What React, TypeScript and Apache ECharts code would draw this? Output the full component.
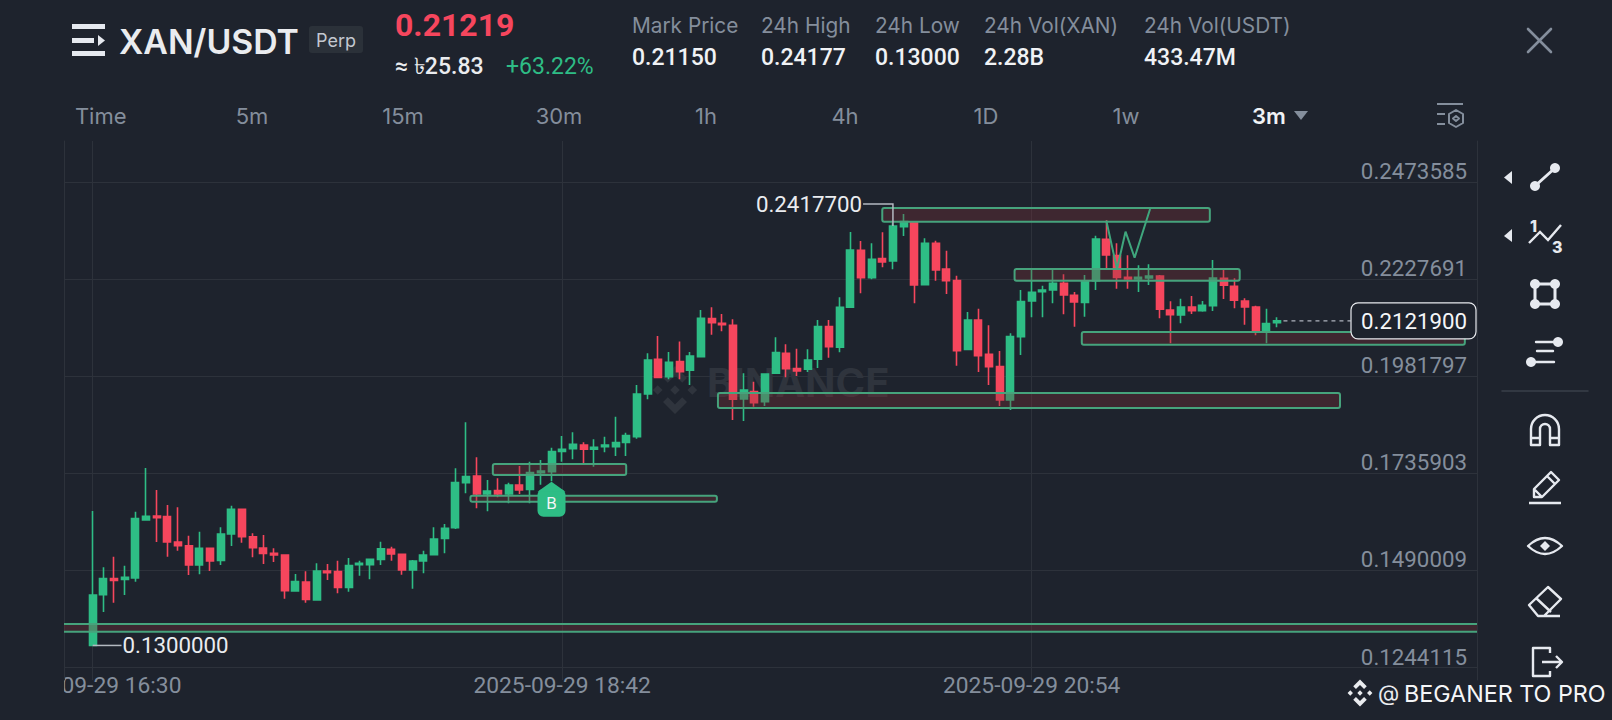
import React, { useEffect, useRef } from "react";
import * as echarts from "echarts";

const BG = "#1e232d";
const GREEN = "#2ebd85";
const RED = "#f6465d";
const GREY = "#848e9c";
const ICON = "#e6e9ef";
const FONT = "Inter, 'Noto Sans', sans-serif";
const NUM = "Roboto, 'Noto Sans', sans-serif";

const opens = [.13000,.14285,.14691,.14674,.14707,.16176,.16278,.16261,.15619,.15526,
.15037,.15459,.15155,.15822,.16446,.15754,.15467,.15332,.15290,.14378,
.14606,.14150,.14885,.14868,.14471,.15045,.15045,.15180,.15433,.15307,
.14910,.15138,.15298,.15712,.15982,.17122,.17291,.16835,.16919,.16835,
.17063,.16953,.17375,.17400,.17915,.17983,.18075,.17966,.18033,.18033,
.18143,.18287,.19367,.20245,.19806,.20186,.19967,.20313,.21275,.21157,
.21106,.19241,.19426,.19173,.19891,.20397,.20009,.19992,.20245,.21072,
.20549,.21562,.23005,.22313,.22794,.22735,.23604,.23723,.22136,.23182,
.22532,.22237,.20498,.21241,.20372,.20059,.19215,.20819,.21722,.21958,
.22001,.22170,.21866,.21688,.22237,.23284,.22870,.22321,.22279,.22305,
.22355,.21494,.21368,.21570,.21477,.21604,.22296,.22094,.21722,.21570,
.20937,.21173];
const closes = [.14277,.14691,.14648,.14724,.16210,.16269,.16235,.15619,.15526,.15037,
.15459,.15138,.15822,.16446,.15754,.15476,.15332,.15290,.14387,.14615,
.14167,.14885,.14843,.14471,.15020,.15079,.15180,.15450,.15315,.14910,
.15138,.15290,.15695,.15965,.17122,.17274,.16835,.16911,.16835,.17063,
.16936,.17375,.17417,.17907,.17966,.18093,.17966,.18016,.18075,.18135,
.18312,.19367,.20228,.19789,.20169,.19933,.20330,.21283,.21174,.21123,
.19232,.19469,.19148,.19874,.20414,.20009,.19950,.20228,.21072,.20566,
.21562,.23014,.22313,.22777,.22710,.23621,.23731,.22127,.23182,.22507,
.22237,.20464,.21241,.20338,.20059,.19215,.20819,.21705,.21942,.22001,
.22170,.21874,.21697,.22212,.23292,.22887,.22321,.22279,.22321,.22355,
.21511,.21376,.21570,.21477,.21612,.22305,.22119,.21739,.21570,.20946,
.21148,.21219];
const lows = [.13000,.13847,.14083,.14277,.14615,.16176,.15619,.15248,.15400,.14783,
.14800,.14885,.15037,.15518,.15602,.15231,.15062,.15113,.14184,.14361,
.14083,.14133,.14657,.14319,.14361,.14767,.14674,.15037,.15146,.14792,
.14437,.14826,.15290,.15332,.15948,.16852,.16472,.16396,.16750,.16598,
.16835,.16598,.17071,.17155,.17654,.17712,.17595,.17527,.17890,.17797,
.17797,.18236,.19232,.19764,.19739,.19739,.19595,.20313,.20870,.20954,
.18709,.18684,.19047,.19064,.19874,.19789,.19823,.19925,.20026,.20287,
.20422,.21562,.21916,.22271,.22575,.22524,.23368,.21663,.22127,.22237,
.21899,.20085,.20481,.19924,.19595,.19063,.18962,.20355,.21308,.21308,
.21663,.21385,.21072,.21325,.22001,.22549,.22034,.22034,.21950,.22127,
.21283,.20650,.21157,.21393,.21452,.21469,.21773,.21536,.21123,.20853,
.20650,.21055];
const highs = [.16404,.14978,.15248,.15020,.16387,.17493,.16936,.16556,.16497,.15780,
.15881,.15459,.15990,.16539,.16446,.15839,.15796,.15459,.15290,.14809,
.14876,.15079,.15062,.15146,.15214,.15146,.15197,.15628,.15501,.15307,
.15163,.15400,.15990,.16075,.17485,.18650,.17763,.17189,.17231,.17122,
.17544,.17654,.17696,.18008,.18303,.18396,.18143,.18219,.18287,.18793,
.18388,.19595,.20397,.20836,.20431,.20693,.20431,.21495,.21562,.21393,
.21258,.19891,.19680,.19891,.20802,.20625,.20515,.20498,.21241,.21241,
.21815,.23469,.23242,.23182,.23461,.23689,.23925,.23723,.23309,.23250,
.22997,.22364,.21444,.21528,.21106,.20456,.20903,.22001,.22524,.22110,
.22524,.22397,.21950,.22381,.23377,.23773,.23182,.22879,.22625,.22651,
.22381,.21714,.21781,.21849,.21722,.22760,.22507,.22296,.21790,.21604,
.21528,.21308];

const priceTicks = [0.2473585, 0.2227691, 0.1981797, 0.1735903, 0.1490009, 0.1244115];
const timeTicks = [0, 44, 88];
const timeLabels = ["2025-09-29 16:30", "2025-09-29 18:42", "2025-09-29 20:54"];

// [start candle, end candle, lower price, upper price]
const zones = [
  [74, 104.7, 0.2373, 0.24077],
  [86.4, 107.5, 0.22236, 0.22532],
  [92.7, 128.6, 0.20615, 0.20937],
  [58.6, 116.9, 0.19013, 0.19392],
  [37.5, 50, 0.17316, 0.17594],
  [35.4, 58.5, 0.1664, 0.16792],
  [-5, 132, 0.13347, 0.13542],
];
const wavePoints = [[95, 0.23755], [96, 0.22532], [96.8, 0.23477], [97.65, 0.22819], [99.1, 0.24052]];
const lastPriceLine = [[111.6, 0.21219], [117.9, 0.21219]];
const extremes = [
  { index: 75, price: 0.24177, labelAt: 72.2, body: 0.23621, text: "0.2417700", side: "left" },
  { index: 0, price: 0.13, labelAt: 2.7, body: 0.13, text: "0.1300000", side: "right" },
];
const buyTag = { index: 43, price: 0.1661, text: "B" };

const stats = [
  ["Mark Price", "0.21150", 632],
  ["24h High", "0.24177", 761],
  ["24h Low", "0.13000", 875],
  ["24h Vol(XAN)", "2.28B", 984],
  ["24h Vol(USDT)", "433.47M", 1144],
];
const tabs = [["Time", 100.7], ["5m", 252], ["15m", 403], ["30m", 559], ["1h", 706], ["4h", 845], ["1D", 986], ["1w", 1126]];

const SHAPES: Record<string, string> = {
  magnet: "M-14 15 V-1 A14 14 0 0 1 14 -1 V15 H5 V-1 A5 5 0 0 0 -5 -1 V15 Z M-14 8 H-5 M5 8 H14",
  pencil: "M-11 10 L-11 2 L6 -15 L14 -7 L-3 10 Z M-11 2 L-3 10 M2 -11 L10 -3 M-16 16 H16",
  eye: "M-17 0 Q0 -16 17 0 Q0 16 -17 0 Z",
  eraser: "M-16 3 L3 -15 L16 -3 L-1 14 H-7 Z M-9 -4 L6 10 M-3 14 H15",
  exit: "M5 -9 V-14 H-12 V14 H5 V9 M-3 0 H17 M11 -6 L17 0 L11 6",
  settings: "M-13 -12 H13 M-13 -2 H-5 M-13 8 H-5 M6 -6 L13 -2 L13 7 L6 11 L-1 7 L-1 -2 Z M6 0 L9 2.5 L6 5 L3 2.5 Z",
  logoA: "M0 -10 L5 -5 L3 -3 L0 -6 L-3 -3 L-5 -5 Z M0 10 L5 5 L3 3 L0 6 L-3 3 L-5 5 Z M0 -2 L2 0 L0 2 L-2 0 Z M-7.2 -2 L-5.2 0 L-7.2 2 L-9.2 0 Z M7.2 -2 L9.2 0 L7.2 2 L5.2 0 Z",
};
Object.keys(SHAPES).forEach((k) => {
  echarts.graphic.registerShape(k, echarts.graphic.extendPath(SHAPES[k], {}));
});

const txt = (text: string, x: number, y: number, size: number, fill: string, weight = 400, align = "left", extra: any = {}) => ({
  type: "text", z: 20,
  style: { text, x, y, fill, fontSize: size, fontFamily: FONT, fontWeight: weight, align, textAlign: align, verticalAlign: "middle", textVerticalAlign: "middle", ...extra },
});
const ln = (x1: number, y1: number, x2: number, y2: number, stroke = ICON, lineWidth = 3, z = 20) => ({
  type: "line", z, shape: { x1, y1, x2, y2 }, style: { stroke, lineWidth, lineCap: "round" },
});
const dot = (cx: number, cy: number, r: number, fill = ICON) => ({ type: "circle", z: 20, shape: { cx, cy, r }, style: { fill } });
const stroked = (type: string, x: number, y: number, stroke = ICON, lineWidth = 2.4, z = 20) => ({
  type, x, y, z, style: { stroke, lineWidth, fill: "none", lineJoin: "round" },
});
const tri = (pts: number[][], fill: string, z = 20) => ({ type: "polygon", z, shape: { points: pts }, style: { fill } });

function chrome(): any[] {
  const X = 1545;
  const els: any[] = [
    { type: "rect", z: 100, shape: { x: 0, y: 672, width: 64, height: 30 }, style: { fill: BG } },
    ln(64.5, 141, 64.5, 680, "#2d323b", 1, 1),
    { type: "rect", z: 20, shape: { x: 72, y: 24, width: 33, height: 5 }, style: { fill: ICON } },
    { type: "rect", z: 20, shape: { x: 72, y: 38, width: 22, height: 5 }, style: { fill: ICON } },
    { type: "rect", z: 20, shape: { x: 72, y: 51, width: 33, height: 5 }, style: { fill: ICON } },
    tri([[98, 35], [105, 40.5], [98, 46]], ICON),
    txt("XAN/USDT", 119, 41, 33.8, "#eaecef", 600),
    { type: "rect", z: 19, shape: { x: 309, y: 26, width: 54, height: 27, r: 3 }, style: { fill: "#2b3139" } },
    txt("Perp", 336, 40, 18, "#c3c8d0", 400, "center"),
    txt("0.21219", 395, 25, 32, RED, 700, "left", { fontFamily: NUM }),
    txt("≈ ৳25.83", 395, 66, 23, "#eaecef", 500, "left", { fontFamily: NUM }),
    txt("+63.22%", 506, 66, 23, GREEN, 400, "left", { fontFamily: NUM }),
    ln(1528, 29, 1551, 52, GREY, 2.6),
    ln(1551, 29, 1528, 52, GREY, 2.6),
    txt("3m", 1252, 116, 22, "#f0f2f5", 600),
    tri([[1294, 111], [1308, 111], [1301, 120]], GREY),
    stroked("settings", 1450, 116, GREY, 2),
    { type: "logoA", x: 675, y: 390, scaleX: 2.4, scaleY: 2.4, z: 1, style: { fill: "#2f343d" } },
    { type: "text", z: 1, style: { text: "BINANCE", x: 707, y: 382, fill: "#2f343d", fontSize: 40, fontFamily: FONT, fontWeight: 700, verticalAlign: "middle", textVerticalAlign: "middle" } },
    tri([[1512, 171], [1512, 184], [1504, 177.5]], ICON),
    tri([[1512, 229], [1512, 242], [1504, 236]], ICON),
    ln(X - 10, 186, X + 10, 168),
    dot(X - 10, 186, 5),
    dot(X + 10, 168, 5),
    txt("1", X - 15, 226, 16, ICON, 800),
    txt("3", X + 7, 247, 16, ICON, 800),
    { type: "polyline", z: 20, shape: { points: [[X - 16, 243], [X - 5, 232], [X + 3, 240], [X + 16, 225]] }, style: { stroke: ICON, lineWidth: 2.4, fill: "none" } },
    ln(X - 10, 284, X + 10, 284), ln(X - 10, 304, X + 10, 304), ln(X - 10, 284, X - 10, 304), ln(X + 10, 284, X + 10, 304),
    dot(X - 10, 284, 5), dot(X + 10, 284, 5), dot(X - 10, 304, 5), dot(X + 10, 304, 5),
    ln(X - 9, 342, X + 12, 342, ICON, 2.4), ln(X - 8, 351, X + 8, 351, ICON, 2.4), ln(X - 13, 362, X + 9, 362, ICON, 2.4),
    dot(X + 13, 342, 5), dot(X - 14, 362, 5),
    ln(1502, 391, 1588, 391, "#3a4049", 1.5),
    stroked("magnet", X, 430),
    stroked("pencil", X, 487),
    stroked("eye", X, 546),
    tri([[X, 541], [X + 5, 546], [X, 551], [X - 5, 546]], ICON),
    stroked("eraser", X, 602),
    stroked("exit", X, 662),
    { type: "logoA", x: 1360, y: 693, scaleX: 1.35, scaleY: 1.35, z: 20, style: { fill: "#eaecef" } },
    txt("@", 1378, 693, 22, "#eaecef"),
    txt("BEGANER TO PRO", 1404, 693, 23.3, "#f5f6f8"),
  ];
  stats.forEach(([label, value, x]: any) => {
    els.push(txt(label, x, 25, 20.8, GREY));
    els.push(txt(value, x, 57, 23, "#f0f2f5", 500, "left", { fontFamily: NUM }));
  });
  tabs.forEach(([label, x]: any) => els.push(txt(label, x, 116, 22, GREY, 400, "center")));
  return els;
}

export default function App() {
  const ref = useRef<HTMLDivElement>(null);
  useEffect(() => {
    document.body.style.margin = "0";
    document.body.style.background = BG;
    const chart = echarts.init(ref.current!, undefined, { renderer: "svg" });
    const candles = opens.map((o, i) => [i, o, closes[i], lows[i], highs[i]]);
    chart.setOption({
      animation: false,
      backgroundColor: BG,
      textStyle: { fontFamily: FONT },
      grid: { left: 64, right: 135, top: 141, bottom: 40 },
      xAxis: {
        type: "value", min: -2.69, max: 129.74,
        axisLine: { show: false },
        axisTick: { show: false, customValues: timeTicks },
        splitLine: { show: true, lineStyle: { color: "#2d323b", width: 1 } },
        axisLabel: {
          customValues: timeTicks, color: GREY, fontSize: 22.8, margin: -6, fontFamily: NUM,
          formatter: (v: number) => timeLabels[timeTicks.indexOf(v)] ?? "",
        },
      },
      yAxis: {
        type: "value", position: "right", min: 0.12125, max: 0.25773, scale: true,
        axisLine: { show: true, onZero: false, lineStyle: { color: "#2d323b", width: 1 } },
        axisTick: { show: false, customValues: priceTicks },
        splitLine: { show: true, lineStyle: { color: "#2d323b", width: 1 } },
        axisLabel: {
          customValues: priceTicks, inside: true, color: GREY, fontSize: 22.3, margin: 10, fontFamily: NUM,
          verticalAlign: "bottom",
          formatter: (v: number) => v.toFixed(7),
        },
      },
      graphic: { elements: chrome() },
      series: [
        {
          type: "candlestick", data: candles, barWidth: 7.5, z: 2,
          encode: { x: 0, y: [1, 2, 3, 4] },
          itemStyle: { color: GREEN, color0: RED, borderColor: GREEN, borderColor0: RED, borderColorDoji: GREEN, borderWidth: 1.6 },
        },
        {
          type: "custom", z: 4, data: zones, silent: true, clip: true,
          encode: { x: [0, 1], y: [2, 3] },
          renderItem: (_: any, api: any) => {
            const a = api.coord([api.value(0), api.value(3)]);
            const b = api.coord([api.value(1), api.value(2)]);
            return {
              type: "rect",
              shape: { x: a[0], y: a[1], width: b[0] - a[0], height: b[1] - a[1], r: 2 },
              style: { fill: "rgba(130,50,55,0.32)", stroke: "#46a37c", lineWidth: 2 },
            };
          },
        },
        {
          type: "line", z: 5, data: wavePoints, symbol: "none", silent: true,
          lineStyle: { color: "#3fa67d", width: 2 },
        },
        {
          type: "line", z: 5, data: lastPriceLine, symbol: "none", silent: true,
          lineStyle: { color: "#aeb4bd", width: 1.4, type: [4, 4] },
        },
        {
          type: "custom", z: 6, silent: true,
          data: extremes.map((e) => [e.index, e.price]),
          encode: { x: 0, y: 1 },
          renderItem: (p: any, api: any) => {
            const e = extremes[p.dataIndex];
            const a = api.coord([e.index, e.price]);
            const l = api.coord([e.labelAt, e.price]);
            const b = api.coord([e.index, e.body]);
            const line = { stroke: "#b4b9c1", lineWidth: 1.5, fill: "none" };
            return {
              type: "group",
              children: [
                { type: "polyline", shape: { points: [[l[0], l[1]], [a[0], a[1]], [b[0], b[1]]] }, style: line },
                {
                  type: "text",
                  style: {
                    text: e.text, x: l[0] + (e.side === "left" ? -1 : 1), y: l[1],
                    fill: "#eaecef", fontSize: 22.3, fontFamily: NUM,
                    align: e.side === "left" ? "right" : "left", textAlign: e.side === "left" ? "right" : "left",
                    verticalAlign: "middle", textVerticalAlign: "middle",
                  },
                },
              ],
            };
          },
        },
        {
          type: "custom", z: 6, silent: true,
          data: [[buyTag.index, buyTag.price]],
          encode: { x: 0, y: 1 },
          renderItem: (_: any, api: any) => {
            const c = api.coord([api.value(0), api.value(1)]);
            return {
              type: "group",
              children: [
                { type: "rect", shape: { x: c[0] - 14, y: c[1] - 14, width: 28, height: 28, r: 6 }, style: { fill: GREEN } },
                { type: "polygon", shape: { points: [[c[0], c[1] - 21], [c[0] + 14, c[1] - 11], [c[0] - 14, c[1] - 11]] }, style: { fill: GREEN } },
                { type: "text", style: { text: buyTag.text, x: c[0], y: c[1], fill: "#f5f6f8", fontSize: 16, fontFamily: FONT, align: "center", textAlign: "center", verticalAlign: "middle", textVerticalAlign: "middle" } },
              ],
            };
          },
        },
        {
          type: "custom", z: 7, silent: true,
          data: [[closes[closes.length - 1]]],
          encode: { y: 0 },
          renderItem: (_: any, api: any) => {
            const c = api.coord([120, closes[closes.length - 1]]);
            return {
              type: "group",
              children: [
                { type: "rect", shape: { x: 1351, y: c[1] - 18, width: 125, height: 36, r: 7 }, style: { fill: BG, stroke: "#e8eaee", lineWidth: 1.2 } },
                { type: "text", style: { text: (closes[closes.length - 1]).toFixed(7), x: 1361, y: c[1], fill: "#f5f6f8", fontSize: 22.3, fontFamily: NUM, verticalAlign: "middle", textVerticalAlign: "middle" } },
              ],
            };
          },
        },
      ],
    });
    return () => chart.dispose();
  }, []);
  return <div ref={ref} style={{ position: "fixed", left: 0, top: 0, width: 1612, height: 720 }} />;
}
